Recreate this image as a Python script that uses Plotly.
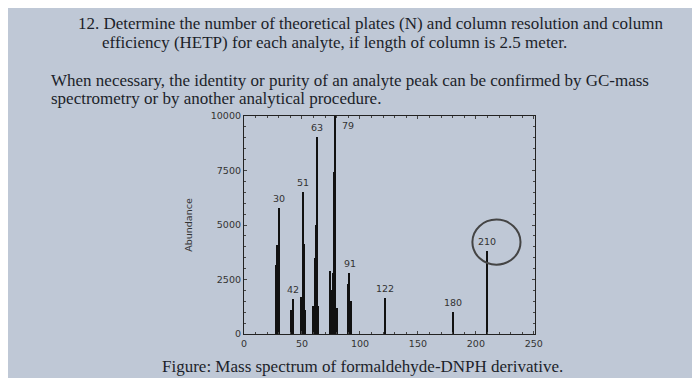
import plotly.graph_objects as go

# m/z values and abundances
mz = [28, 29, 30, 41, 42, 49, 51, 52, 53, 60, 61, 62, 63, 64,
      74, 76, 77, 78, 79, 80, 90, 91, 92, 122, 180, 210]
abundance = [3150, 4100, 5800, 1100, 1600, 1700, 6500, 4150, 1100, 1300, 3500, 5000, 9050, 1300,
             2900, 2000, 2800, 7450, 10000, 1200, 2300, 2800, 1500, 1650, 1000, 3800]

label_mz = [30, 42, 51, 63, 79, 91, 122, 180, 210]
label_ab = [5800, 1600, 6500, 9050, 10000, 2800, 1650, 1000, 3800]

x_ticks = [0, 50, 100, 150, 200, 250]
y_ticks = [0, 2500, 5000, 7500, 10000]
y_tick_text = ["0", "2500", "5000", "7500", "10000"]

paper = "#bfc8d6"
ink = "#1c1f2a"
L, R, T, B = 236, 527, 108, 326
small = dict(family="DejaVu Sans, Arial", size=9.5, color="#333")

fig = go.Figure()
fig.add_trace(go.Bar(x=mz, y=abundance, width=1.1,
                     marker=dict(color="#111111", line=dict(width=0)),
                     showlegend=False, hoverinfo="x+y"))

for m, a in zip(label_mz, label_ab):
    if m == 79:
        fig.add_annotation(x=m, y=a, text=str(m), showarrow=False,
                           xanchor="left", yanchor="top", xshift=4, yshift=-2, font=small)
    else:
        fig.add_annotation(x=m, y=a, text=str(m), showarrow=False,
                           yanchor="bottom", yshift=2, font=small)

# circle around the molecular ion peak
fig.add_shape(type="circle", xref="x", yref="y", x0=197, x1=238.5, y0=3180, y1=5250,
              line=dict(color="#444", width=2))

fig.update_xaxes(range=[0, 251], tickvals=x_ticks, ticks="inside", ticklen=3,
                 minor=dict(ticks="inside", ticklen=2, dtick=10),
                 showline=True, linecolor="#222", linewidth=1.2, mirror="allticks",
                 showgrid=False, zeroline=False, tickfont=small)
fig.update_yaxes(range=[0, 10000], tickvals=y_ticks, ticktext=y_tick_text,
                 ticks="inside", ticklen=3,
                 minor=dict(ticks="inside", ticklen=2, dtick=500),
                 showline=True, linecolor="#222", linewidth=1.2, mirror="allticks",
                 showgrid=False, zeroline=False,
                 title=dict(text="Abundance", standoff=16, font=small),
                 tickfont=small)

serif = dict(family="Liberation Serif, Times New Roman, serif", size=17, color=ink)
texts = [
    ("12. Determine the number of theoretical plates (N) and column resolution and column", 362, 15),
    ("efficiency (HETP) for each analyte, if length of column is 2.5 meter.", 326, 35),
    ("When necessary, the identity or purity of an analyte peak can be confirmed by GC-mass", 342, 72),
    ("spectrometry or by another analytical procedure.", 208, 90),
    ("Figure: Mass spectrum of formaldehyde-DNPH derivative.", 354, 358),
]
for t, px, py in texts:
    fig.add_annotation(text=t, xref="paper", yref="paper",
                       x=(px - L) / (R - L), y=(B - py) / (B - T),
                       xanchor="center", yanchor="middle", showarrow=False, font=serif)

fig.update_layout(width=700, height=378, margin=dict(l=L, r=700 - R, t=T, b=378 - B),
                  paper_bgcolor=paper, plot_bgcolor=paper, bargap=0)

fig.write_html("out.html")
